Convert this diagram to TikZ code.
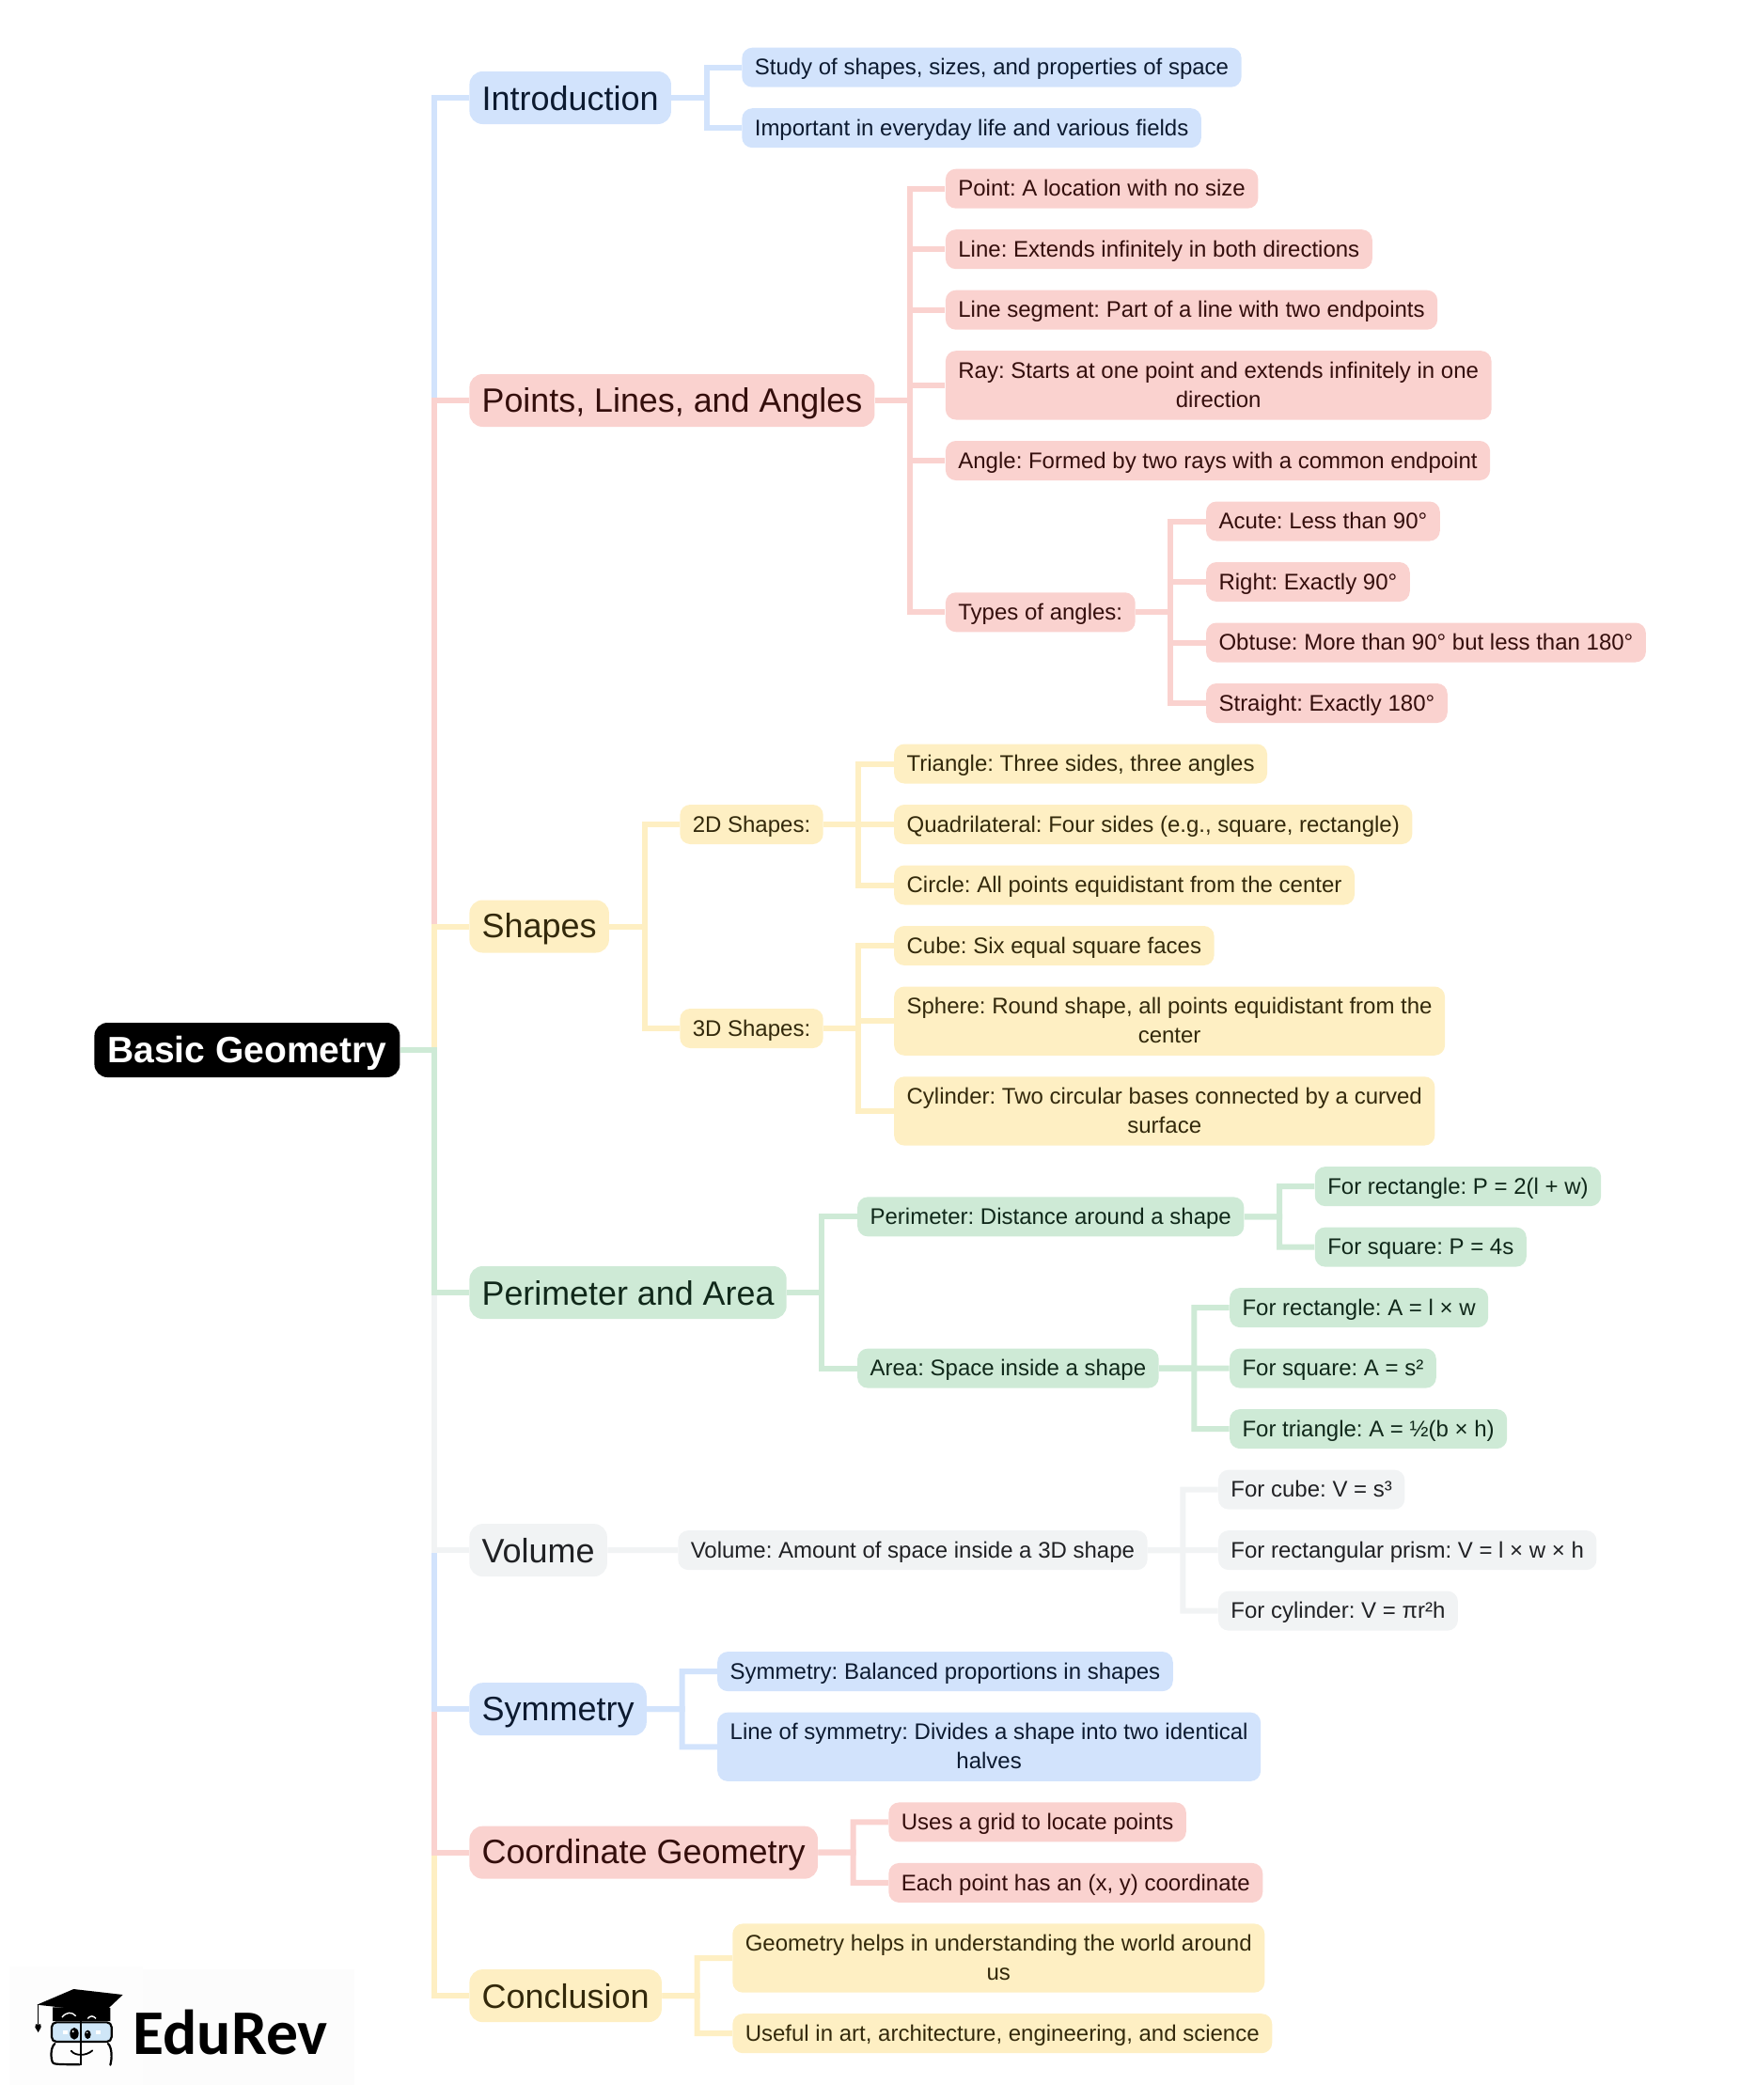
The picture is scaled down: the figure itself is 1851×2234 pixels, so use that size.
\documentclass[tikz,border=0pt]{standalone}
\usepackage{fontspec}
\setmainfont{Liberation Sans}
\newfontfamily\logofont{Carlito}
\usetikzlibrary{calc}
\definecolor{blueF}{HTML}{D2E3FC}\definecolor{blueT}{HTML}{0C1A30}
\definecolor{redF}{HTML}{FAD2CF}\definecolor{redT}{HTML}{340E0C}
\definecolor{yelF}{HTML}{FEEFC3}\definecolor{yelT}{HTML}{33290B}
\definecolor{grnF}{HTML}{CEEAD6}\definecolor{grnT}{HTML}{10281A}
\definecolor{gryF}{HTML}{F1F3F4}\definecolor{gryT}{HTML}{202124}
\definecolor{logoB}{HTML}{CFE6F7}
\tikzset{
  cb/.style={fill=blueF,text=blueT},cbl/.style={draw=blueF},
  cr/.style={fill=redF,text=redT},crl/.style={draw=redF},
  cy/.style={fill=yelF,text=yelT},cyl/.style={draw=yelF},
  cg/.style={fill=grnF,text=grnT},cgl/.style={draw=grnF},
  cx/.style={fill=gryF,text=gryT},cxl/.style={draw=gryF},
  leaf/.style={rectangle,rounded corners=5.5pt,inner xsep=6.75pt,inner ysep=0pt,minimum height=21pt,anchor=west,align=center,font=\fontsize{12}{15.5}\selectfont\frenchspacing},
  leafd/.style={leaf,minimum height=36.65pt},
  mainn/.style={rectangle,rounded corners=7pt,inner xsep=6.6pt,inner ysep=0pt,minimum height=28pt,anchor=west,font=\fontsize{18}{22}\selectfont\frenchspacing},
  mains/.style={font=\fontsize{17.93}{22}\selectfont\frenchspacing},
  rootn/.style={rectangle,rounded corners=7pt,fill=black,text=white,inner xsep=7pt,inner ysep=0pt,minimum height=29pt,anchor=west,font=\fontsize{19.5}{24}\selectfont\bfseries},
  conn/.style={line width=3pt,line join=miter,line cap=butt}
}
\newcommand\bx[1]{\rule[-2.5pt]{0pt}{13.2pt}#1}
\newcommand\mx[1]{\rule[-2.5pt]{0pt}{18.5pt}#1}
% \kid[style]{name}{parent}{y}{text}
\newcommand\kid[5][leaf]{\path (#3.east) ++(74.6,0) coordinate (tmp);\node[#1] (#2) at (tmp |- 0,#4) {#5};}
\newcommand\mainkid[4]{\node[mainn,#1] (#2) at (499,#3) {\mx{#4}};}
\newcommand\cn[3]{\draw[conn,#1] (#2.east) -- ($(#2.east)!.5!(#2.east -| #3.west)$) |- (#3.west);}
\begin{document}
\begin{tikzpicture}[x=0.5pt,y=-0.5pt]
\useasboundingbox (0,0) rectangle (1851,2234);
% logo backdrop
\fill[fill=black!0.6] (10,2092) rectangle (152,2218);
\fill[fill=black!1] (152,2095) rectangle (377,2218);
% root
\node[rootn] (root) at (100,1117) {\rule[-2.7pt]{0pt}{20pt}Basic Geometry};
% main nodes
\mainkid{cb}{intro}{104}{Introduction}
\mainkid{cr,mains}{pla}{426}{Points, Lines, and Angles}
\mainkid{cy}{shapes}{985.5}{Shapes}
\mainkid{cg,mains}{pa}{1375}{Perimeter and Area}
\mainkid{cx}{vol}{1649.1}{Volume}
\mainkid{cb}{sym}{1818.2}{Symmetry}
\mainkid{cr}{coord}{1970.65}{Coordinate Geometry}
\mainkid{cy}{concl}{2123.1}{Conclusion}
% Introduction
\kid[leaf,cb]{study}{intro}{71.7}{\bx{Study of shapes, sizes, and properties of space}}
\kid[leaf,cb]{imp}{intro}{136.2}{\bx{Important in everyday life and various fields}}
% Points
\kid[leaf,cr]{point}{pla}{200.7}{\bx{Point: A location with no size}}
\kid[leaf,cr]{line}{pla}{265.2}{\bx{Line: Extends infinitely in both directions}}
\kid[leaf,cr]{seg}{pla}{329.7}{\bx{Line segment: Part of a line with two endpoints}}
\kid[leafd,cr]{ray}{pla}{409.85}{\bx{Ray: Starts at one point and extends infinitely in one}\\\bx{direction}}
\kid[leaf,cr]{angle}{pla}{490}{\bx{Angle: Formed by two rays with a common endpoint}}
\kid[leaf,cr]{types}{pla}{651.25}{\bx{Types of angles:}}
\kid[leaf,cr]{acute}{types}{554.5}{\bx{Acute: Less than 90°}}
\kid[leaf,cr]{right}{types}{619}{\bx{Right: Exactly 90°}}
\kid[leaf,cr]{obtuse}{types}{683.5}{\bx{Obtuse: More than 90° but less than 180°}}
\kid[leaf,cr]{straight}{types}{748}{\bx{Straight: Exactly 180°}}
% Shapes
\kid[leaf,cy]{twod}{shapes}{877}{\bx{2D Shapes:}}
\kid[leaf,cy]{threed}{shapes}{1094}{\bx{3D Shapes:}}
\kid[leaf,cy]{tri}{twod}{812.5}{\bx{Triangle: Three sides, three angles}}
\kid[leaf,cy]{quad}{twod}{877}{\bx{Quadrilateral: Four sides (e.g., square, rectangle)}}
\kid[leaf,cy]{circ}{twod}{941.5}{\bx{Circle: All points equidistant from the center}}
\kid[leaf,cy]{cube}{threed}{1006}{\bx{Cube: Six equal square faces}}
\kid[leafd,cy]{sphere}{threed}{1086.15}{\bx{Sphere: Round shape, all points equidistant from the}\\\bx{center}}
\kid[leafd,cy]{cyl}{threed}{1181.95}{\bx{Cylinder: Two circular bases connected by a curved}\\\bx{surface}}
% Perimeter and Area
\kid[leaf,cg]{perim}{pa}{1294.35}{\bx{Perimeter: Distance around a shape}}
\kid[leaf,cg]{area}{pa}{1455.6}{\bx{Area: Space inside a shape}}
\kid[leaf,cg]{prect}{perim}{1262.1}{\bx{For rectangle: P = 2(l + w)}}
\kid[leaf,cg]{psq}{perim}{1326.6}{\bx{For square: P = 4s}}
\kid[leaf,cg]{arect}{area}{1391.1}{\bx{For rectangle: A = l × w}}
\kid[leaf,cg]{asq}{area}{1455.6}{\bx{For square: A = s²}}
\kid[leaf,cg]{atri}{area}{1520.1}{\bx{For triangle: A = ½(b × h)}}
% Volume
\kid[leaf,cx]{volf}{vol}{1649.1}{\bx{Volume: Amount of space inside a 3D shape}}
\kid[leaf,cx]{vcube}{volf}{1584.6}{\bx{For cube: V = s³}}
\kid[leaf,cx]{vprism}{volf}{1649.1}{\bx{For rectangular prism: V = l × w × h}}
\kid[leaf,cx]{vcyl}{volf}{1713.6}{\bx{For cylinder: V = πr²h}}
% Symmetry
\kid[leaf,cb]{symb}{sym}{1778.1}{\bx{Symmetry: Balanced proportions in shapes}}
\kid[leafd,cb]{symd}{sym}{1858.25}{\bx{Line of symmetry: Divides a shape into two identical}\\\bx{halves}}
% Coordinate
\kid[leaf,cr]{uses}{coord}{1938.4}{\bx{Uses a grid to locate points}}
\kid[leaf,cr]{each}{coord}{2002.9}{\bx{Each point has an (x, y) coordinate}}
% Conclusion
\kid[leafd,cy]{geom}{concl}{2083.05}{\bx{Geometry helps in understanding the world around}\\\bx{us}}
\kid[leaf,cy]{useful}{concl}{2163.2}{\bx{Useful in art, architecture, engineering, and science}}
% trunk, far branches first so that the nearest lies on top
\cn{cbl}{root}{intro}
\cn{crl}{root}{pla}
\cn{cyl}{root}{shapes}
\cn{cyl}{root}{concl}
\cn{crl}{root}{coord}
\cn{cbl}{root}{sym}
\cn{cxl}{root}{vol}
\cn{cgl}{root}{pa}
% branches
\cn{cbl}{intro}{study}\cn{cbl}{intro}{imp}
\cn{crl}{pla}{point}\cn{crl}{pla}{line}\cn{crl}{pla}{seg}\cn{crl}{pla}{ray}\cn{crl}{pla}{angle}\cn{crl}{pla}{types}
\cn{crl}{types}{acute}\cn{crl}{types}{right}\cn{crl}{types}{obtuse}\cn{crl}{types}{straight}
\cn{cyl}{shapes}{twod}\cn{cyl}{shapes}{threed}
\cn{cyl}{twod}{tri}\cn{cyl}{twod}{quad}\cn{cyl}{twod}{circ}
\cn{cyl}{threed}{cube}\cn{cyl}{threed}{sphere}\cn{cyl}{threed}{cyl}
\cn{cgl}{pa}{perim}\cn{cgl}{pa}{area}
\cn{cgl}{perim}{prect}\cn{cgl}{perim}{psq}
\cn{cgl}{area}{arect}\cn{cgl}{area}{asq}\cn{cgl}{area}{atri}
\cn{cxl}{vol}{volf}
\cn{cxl}{volf}{vcube}\cn{cxl}{volf}{vprism}\cn{cxl}{volf}{vcyl}
\cn{cbl}{sym}{symb}\cn{cbl}{sym}{symd}
\cn{crl}{coord}{uses}\cn{crl}{coord}{each}
\cn{cyl}{concl}{geom}\cn{cyl}{concl}{useful}
% logo
\node[anchor=base west,inner sep=0pt,font=\logofont\fontsize{33.8}{36}\selectfont\bfseries] (edurev) at (141,2185) {EduRev};
\begin{scope}[xshift=15pt,yshift=-1055pt,x=0.16667pt,y=-0.16667pt]
  % cap band
  \fill (78,76) -- (78,120) -- (262,120) -- (262,78) -- cycle;
  \draw[white,line width=0.7pt] (108,108) .. controls (122,90) and (140,90) .. (152,104);
  \draw[white,line width=0.7pt] (190,112) .. controls (198,102) and (208,102) .. (216,112);
  % board
  \fill (28,68) -- (145,18) -- (302,36) -- (232,102) -- (225,104) -- (120,78) -- cycle;
  \draw[line width=0.55pt] (32,68) -- (32,128);
  \fill (24,130) -- (40,130) -- (41,140) -- (32,156) -- (22,140) -- cycle;
  % glasses
  \draw[fill=logoB,line width=1.1pt,rounded corners=2.5pt] (75,124) rectangle (266,186);
  \fill[white] (110,150) rectangle (126,162);
  \fill[white] (215,150) rectangle (231,162);
  \fill (147,160) ellipse (14 and 19);
  \fill (190,163) ellipse (10 and 14);
  \fill[white] (143,153) circle (3.5);
  \fill[white] (188,157) circle (2.5);
  % lower face
  \draw[line width=1.1pt,line cap=round] (85,192) .. controls (70,205) and (72,240) .. (78,252) .. controls (82,258) and (90,258) .. (165,259);
  \draw[line width=1.1pt,line cap=round] (255,192) .. controls (268,205) and (268,240) .. (262,260);
  \draw[line width=0.9pt,line cap=round] (137,215) .. controls (150,232) and (185,232) .. (205,214);
  % centre line
  \draw[line width=1pt] (167,112) -- (167,262);
\end{scope}
\end{tikzpicture}
\end{document}
